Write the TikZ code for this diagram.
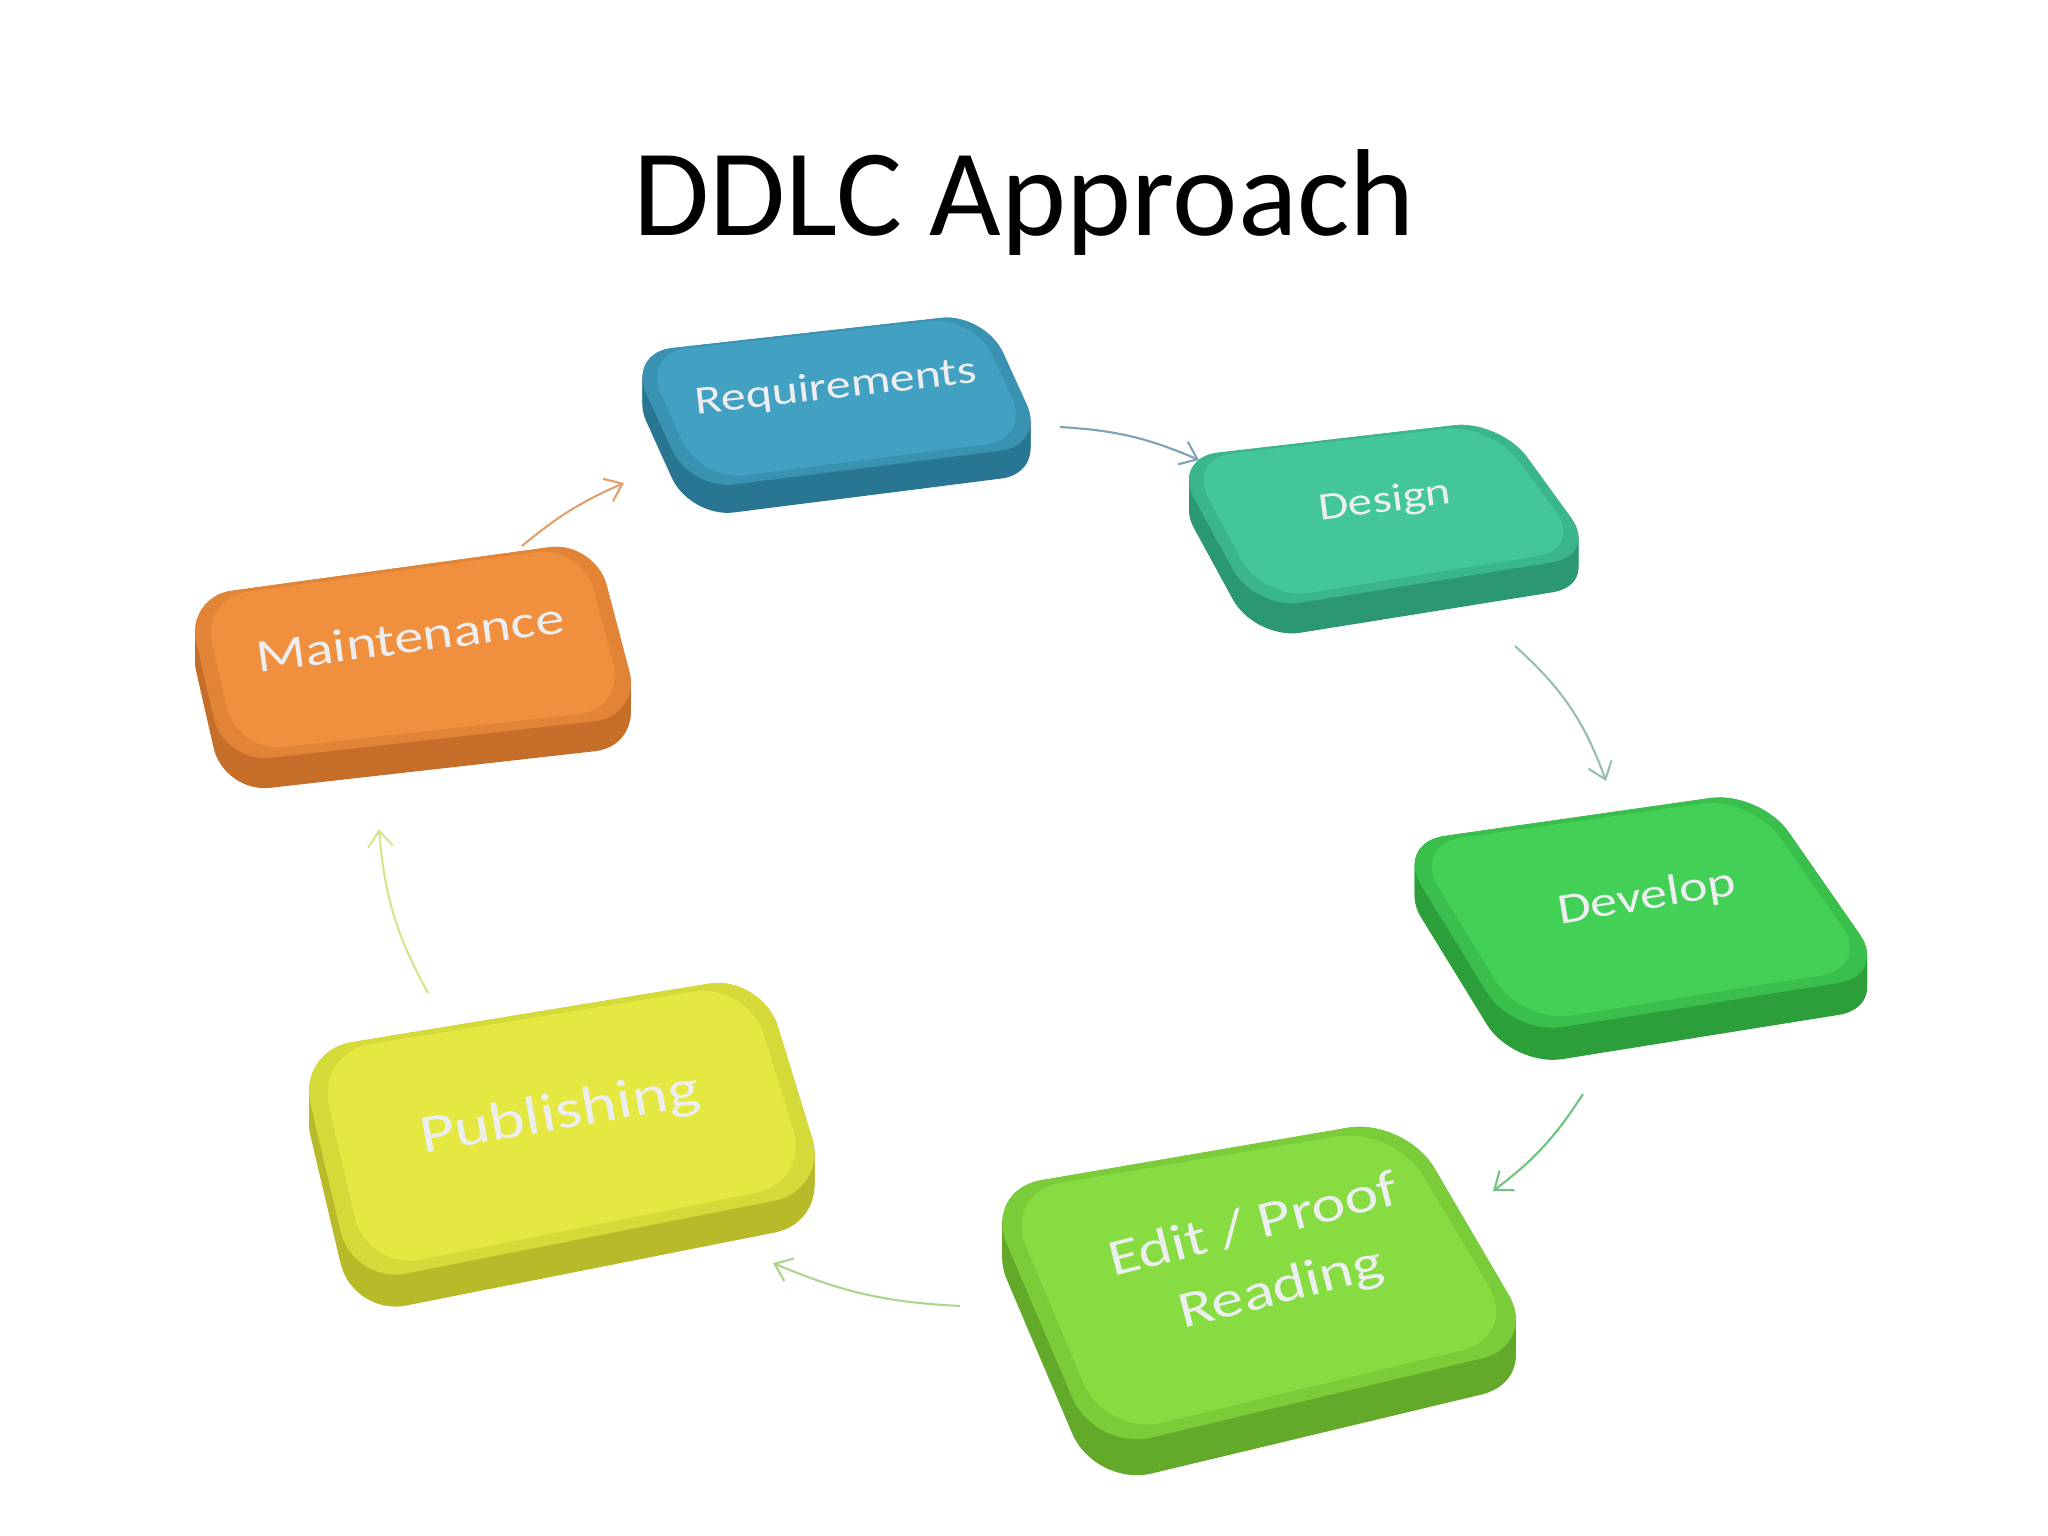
\documentclass[tikz,border=0pt]{standalone}
\usepackage{fontspec}
\setmainfont{Carlito}
\usetikzlibrary{arrows.meta,calc}

\definecolor{reqtop}{RGB}{66,160,194}
\definecolor{reqrim}{RGB}{58,146,178}
\definecolor{reqside}{RGB}{40,118,146}
\definecolor{destop}{RGB}{66,198,154}
\definecolor{desrim}{RGB}{58,182,140}
\definecolor{desside}{RGB}{44,152,114}
\definecolor{devtop}{RGB}{66,208,86}
\definecolor{devrim}{RGB}{58,190,76}
\definecolor{devside}{RGB}{44,158,58}
\definecolor{edttop}{RGB}{134,220,64}
\definecolor{edtrim}{RGB}{122,204,56}
\definecolor{edtside}{RGB}{100,170,42}
\definecolor{pubtop}{RGB}{228,232,64}
\definecolor{pubrim}{RGB}{214,218,56}
\definecolor{pubside}{RGB}{184,186,42}
\definecolor{mnttop}{RGB}{240,144,62}
\definecolor{mntrim}{RGB}{226,132,54}
\definecolor{mntside}{RGB}{196,110,42}

\definecolor{arrA}{RGB}{128,162,182}
\definecolor{arrB}{RGB}{150,190,178}
\definecolor{arrC}{RGB}{110,196,128}
\definecolor{arrD}{RGB}{170,214,140}
\definecolor{arrE}{RGB}{214,228,140}
\definecolor{arrF}{RGB}{226,160,110}
\definecolor{lbltext}{RGB}{236,238,240}

\tikzset{
  lbl/.style={font=\fontsize{#1}{#1}\selectfont, text=lbltext, inner sep=0pt, align=center},
  conn/.style={line width=0.6pt, -{Straight Barb[length=4.5pt,width=7pt,line width=0.6pt]}},
}

% name, TL, TR, BR, BL, thickness, colour prefix, radius
\newcommand{\slab}[8]{%
  \foreach \d in {0,2,...,#6} {\fill[#7side, rounded corners=#8, shift={(0,\d)}] #2 -- #3 -- #4 -- #5 -- cycle;}
  \fill[#7rim, rounded corners=#8] #2 -- #3 -- #4 -- #5 -- cycle;
  \fill[#7top, rounded corners=#8, shift={(0,-3)}]
    ($#2!0.035!#4$) -- ($#3!0.035!#5$) -- ($#4!0.035!#2$) -- ($#5!0.035!#3$) -- cycle;
}

\begin{document}
\begin{tikzpicture}[x=0.01cm,y=-0.01cm]
\useasboundingbox (0,0) rectangle (2048,1536);
\fill[white] (0,0) rectangle (2048,1536);

\node[anchor=base, font=\fontsize{35.2}{40}\selectfont] (title) at (1024,235) {DDLC Approach};

% boxes
\slab{req}{(628,353)}{(985,313)}{(1045,445)}{(690,490)}{28}{req}{0.44cm}
\slab{des}{(1172,458)}{(1500,420)}{(1598,555)}{(1255,610)}{30}{des}{0.46cm}
\slab{dev}{(1395,843)}{(1760,791)}{(1888,975)}{(1513,1035)}{32}{dev}{0.5cm}
\slab{edt}{(984,1190)}{(1405,1118)}{(1538,1345)}{(1095,1451)}{36}{edt}{0.58cm}
\slab{pub}{(298,1051)}{(762,975)}{(828,1190)}{(353,1284)}{32}{pub}{0.54cm}
\slab{mnt}{(186,597)}{(595,541)}{(641,716)}{(224,763)}{30}{mnt}{0.46cm}

% labels
\node[lbl=14.2, rotate=6.5, yscale=0.8] (reqt) at (836,388) {Requirements};
\node[lbl=13.9, rotate=7.3, yscale=0.8] (dest) at (1385,502) {Design};
\node[lbl=15.4, rotate=9.5, yscale=0.8] (devt) at (1647,898) {Develop};
\node[lbl=18.3, rotate=14.3, yscale=0.8, font=\fontsize{18.3}{24}\selectfont] (edtt) at (1262,1260) {Edit / Proof\\\hspace*{0.35em}Reading};
\node[lbl=19.3, rotate=10, yscale=0.8] (pubt) at (560,1115) {Publishing};
\node[lbl=16.5, rotate=7.4, yscale=0.8] (mntt) at (410,637) {Maintenance};

% connector end points
\coordinate (reqout) at (1060,427);
\coordinate (desin)  at (1199,460);
\coordinate (desout) at (1515,646);
\coordinate (devin)  at (1606,781);
\coordinate (devout) at (1583,1094);
\coordinate (edtin)  at (1493,1191);
\coordinate (edtout) at (960,1306);
\coordinate (pubin)  at (773,1263);
\coordinate (pubout) at (428,993);
\coordinate (mntin)  at (379,829);
\coordinate (mntout) at (522,546);
\coordinate (reqin)  at (624,483);

\draw[conn, arrA] (reqout) to[bend left=10] (desin);
\draw[conn, arrB] (desout) to[bend left=14] (devin);
\draw[conn, arrC] (devout) to[bend left=10] (edtin);
\draw[conn, arrD] (edtout) to[bend left=10] (pubin);
\draw[conn, arrE] (pubout) to[bend left=12] (mntin);
\draw[conn, arrF] (mntout) to[bend left=8] (reqin);
\end{tikzpicture}
\end{document}
